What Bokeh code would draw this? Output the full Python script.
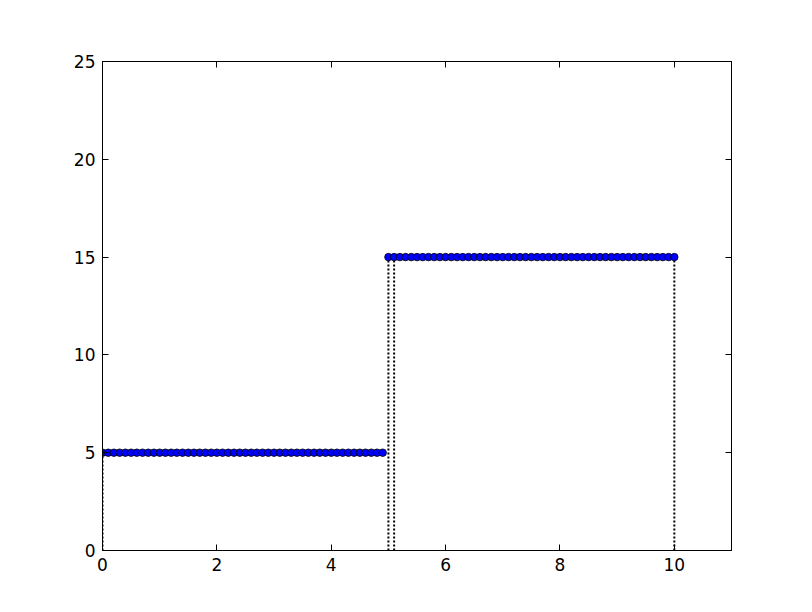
from bokeh.plotting import figure
from bokeh.models import LinearAxis, Range1d, FixedTicker
from bokeh.embed import file_html
from bokeh.resources import INLINE

# ---- data ----
x_low = [0.0, 0.1, 0.2, 0.3, 0.4, 0.5, 0.6, 0.7, 0.8, 0.9,
         1.0, 1.1, 1.2, 1.3, 1.4, 1.5, 1.6, 1.7, 1.8, 1.9,
         2.0, 2.1, 2.2, 2.3, 2.4, 2.5, 2.6, 2.7, 2.8, 2.9,
         3.0, 3.1, 3.2, 3.3, 3.4, 3.5, 3.6, 3.7, 3.8, 3.9,
         4.0, 4.1, 4.2, 4.3, 4.4, 4.5, 4.6, 4.7, 4.8, 4.9]
y_low = [5] * len(x_low)

x_high = [5.0, 5.1, 5.2, 5.3, 5.4, 5.5, 5.6, 5.7, 5.8, 5.9,
          6.0, 6.1, 6.2, 6.3, 6.4, 6.5, 6.6, 6.7, 6.8, 6.9,
          7.0, 7.1, 7.2, 7.3, 7.4, 7.5, 7.6, 7.7, 7.8, 7.9,
          8.0, 8.1, 8.2, 8.3, 8.4, 8.5, 8.6, 8.7, 8.8, 8.9,
          9.0, 9.1, 9.2, 9.3, 9.4, 9.5, 9.6, 9.7, 9.8, 9.9, 10.0]
y_high = [15] * len(x_high)

stem_x = [0.0, 5.0, 5.1, 10.0]
stem_top = [5, 15, 15, 15]
stem_bottom = [0, 0, 0, 0]

x_ticks = [0, 2, 4, 6, 8, 10]
y_ticks = [0, 5, 10, 15, 20, 25]

FONT = "DejaVu Sans"
FS = "17px"

p = figure(frame_width=629, frame_height=489,
           x_range=Range1d(0, 11), y_range=Range1d(0, 25),
           output_backend="svg", toolbar_location=None,
           x_axis_location=None, y_axis_location=None)
p.min_border_left = 102
p.min_border_top = 61
p.min_border_right = 60
p.min_border_bottom = 40
p.grid.visible = False
p.outline_line_color = "black"
p.outline_line_width = 1
p.background_fill_color = "white"
p.border_fill_color = "white"

def make_axis(ticks, labels=True):
    ax = LinearAxis(ticker=FixedTicker(ticks=ticks))
    ax.axis_line_color = "black"
    ax.major_tick_line_color = "black"
    ax.major_tick_in = 6
    ax.major_tick_out = 0
    ax.minor_tick_line_color = None
    ax.major_label_text_font = FONT
    ax.major_label_text_font_size = FS
    ax.major_label_text_color = "black" if labels else None
    ax.major_label_standoff = 7
    return ax

p.add_layout(make_axis(x_ticks), "below")
p.add_layout(make_axis(y_ticks), "left")
p.add_layout(make_axis(x_ticks, labels=False), "above")
p.add_layout(make_axis(y_ticks, labels=False), "right")

p.segment(x0=stem_x, y0=stem_bottom, x1=stem_x, y1=stem_top,
          line_color="black", line_width=2, line_dash="2 2")

p.scatter(x_low, y_low, marker="circle", size=7.5,
          fill_color="#0000ff", line_color="black", line_width=0.8)
p.scatter(x_high, y_high, marker="circle", size=7.5,
          fill_color="#0000ff", line_color="black", line_width=0.8)

open("out.html", "w").write(file_html(p, INLINE))
